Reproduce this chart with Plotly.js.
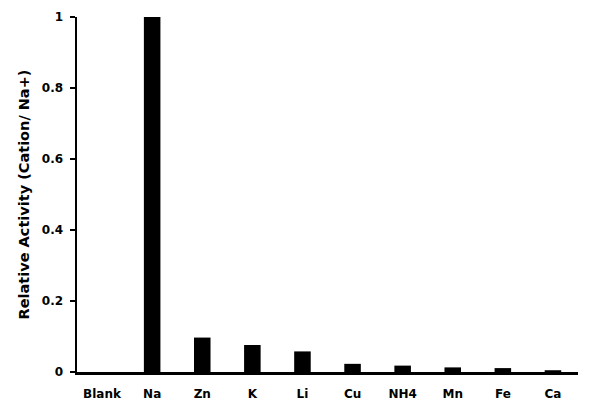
<!DOCTYPE html>
<html><head><meta charset="utf-8">
<script src="https://cdn.plot.ly/plotly-3.0.1.min.js"></script>
<style>html,body{margin:0;padding:0;background:#fff;}#chart{width:600px;height:412px;}</style>
</head><body><div id="chart"></div>
<script>
var categories = ["Blank","Na","Zn","K","Li","Cu","NH4","Mn","Fe","Ca"];
var activity = [0, 1.0, 0.097, 0.076, 0.058, 0.023, 0.018, 0.013, 0.011, 0.005];
var yTickVals = [0, 0.2, 0.4, 0.6, 0.8, 1];
var yTickText = ["0","0.2","0.4","0.6","0.8","1"];

var fontFam = "'DejaVu Sans', sans-serif";
Plotly.newPlot('chart', [{
  type: 'bar', x: categories, y: activity,
  marker: {color: '#000000', line: {width: 0}},
  hoverinfo: 'x+y'
}], {
  width: 600, height: 412,
  margin: {l: 77, r: 22, t: 17, b: 40},
  paper_bgcolor: '#ffffff', plot_bgcolor: '#ffffff',
  bargap: 0.67,
  showlegend: false,
  font: {family: fontFam, color: '#000000'},
  xaxis: {
    showline: true, linecolor: '#000', linewidth: 3,
    ticks: '', showgrid: false, zeroline: false,
    tickfont: {family: fontFam, size: 12, weight: 'bold', color: '#000'},
    ticklabelstandoff: 9
  },
  yaxis: {
    range: [0, 1], showline: true, linecolor: '#000', linewidth: 2.5,
    ticks: 'outside', ticklen: 5, tickwidth: 2.5, tickcolor: '#000',
    tickvals: yTickVals, ticktext: yTickText,
    showgrid: false, zeroline: false, ticklabelstandoff: 4,
    tickfont: {family: fontFam, size: 12, weight: 'bold', color: '#000'},
    title: {text: 'Relative Activity (Cation/ Na+)', font: {family: fontFam, size: 14.5, weight: 'bold', color: '#000'}, standoff: 9}
  }
}, {displayModeBar: false, staticPlot: true});
</script></body></html>
